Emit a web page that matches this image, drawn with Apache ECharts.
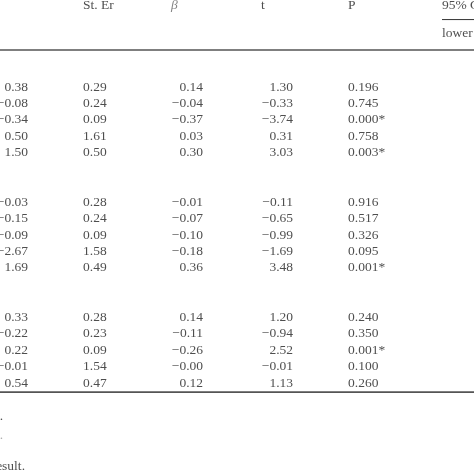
<!DOCTYPE html><html><head><meta charset="utf-8"><script src="https://cdn.jsdelivr.net/npm/echarts@6/dist/echarts.min.js"></script>
<style>html,body{margin:0;padding:0;background:#fff}#c{width:474px;height:474px}</style></head><body><div id="c"></div><script>
const B = ["0.38","−0.08","−0.34","0.50","1.50","−0.03","−0.15","−0.09","−2.67","1.69","0.33","−0.22","0.22","−0.01","0.54"];
const SE = ["0.29","0.24","0.09","1.61","0.50","0.28","0.24","0.09","1.58","0.49","0.28","0.23","0.09","1.54","0.47"];
const BETA = ["0.14","−0.04","−0.37","0.03","0.30","−0.01","−0.07","−0.10","−0.18","0.36","0.14","−0.11","−0.26","−0.00","0.12"];
const T = ["1.30","−0.33","−3.74","0.31","3.03","−0.11","−0.65","−0.99","−1.69","3.48","1.20","−0.94","2.52","−0.01","1.13"];
const P = ["0.196","0.745","0.000*","0.758","0.003*","0.916","0.517","0.326","0.095","0.001*","0.240","0.350","0.001*","0.100","0.260"];
const LOWER = ["−0.20","−0.56","−0.52","−2.71","0.52","−0.59","−0.63","−0.27","−5.81","0.74","−0.22","0.68","0.05","−3.07","−0.41"];
const ROWS = [0,1,2,3,4,7,8,9,10,11,14,15,16,17,18];
const HEADERS = ["St. Er","β","t","P","95% CI"];
const cols=[{d:B,x:28,a:'right'},{d:SE,x:83,a:'left'},{d:BETA,x:203,a:'right'},{d:T,x:293,a:'right'},{d:P,x:348,a:'left'},{d:LOWER,x:477,a:'right'}];
const hdr=[{x:83},{x:171,it:true},{x:261},{x:348},{x:442}];
const font='"Liberation Serif", "DejaVu Serif", serif';
const series=[];
function txt(x,y,s,align,extra){return {value:[x,y],label:Object.assign({show:true,formatter:s,position:'inside',align:align,verticalAlign:'middle',fontFamily:font,fontSize:13.5,color:'#222'},extra||{})};}
const sc=data=>({type:'scatter',symbolSize:1,itemStyle:{color:'rgba(0,0,0,0)'},silent:true,labelLayout:{hideOverlap:false},data});
cols.forEach(c=>series.push(sc(c.d.map((v,i)=>txt(c.x,ROWS[i],v,c.a)))));
series.push(sc(HEADERS.map((h,i)=>txt(hdr[i].x,-4.95,h,'left',hdr[i].it?{fontStyle:'italic',color:'#666'}:{})).concat([txt(442,-3.25,'lower','left'),txt(25,23.05,'result.','right'),txt(3,20.05,'.','right'),txt(3,21.2,'.','right',{color:'#999'})])));
const line=(x1,x2,y,w,c)=>({type:'line',symbol:'none',silent:true,data:[[x1,y],[x2,y]],lineStyle:{width:w,color:c}});
series.push(line(0,474,-2.25,1.6,'#555'),line(0,474,18.55,1.6,'#555'),line(442,474,-4.1,1,'#333'));
echarts.init(document.getElementById('c')).setOption({animation:false,
grid:{left:0,right:0,top:0,bottom:0},
xAxis:{type:'value',min:0,max:474,show:false},
yAxis:{type:'value',min:-5.29,max:23.53,inverse:true,show:false},
series});
</script></body></html>
